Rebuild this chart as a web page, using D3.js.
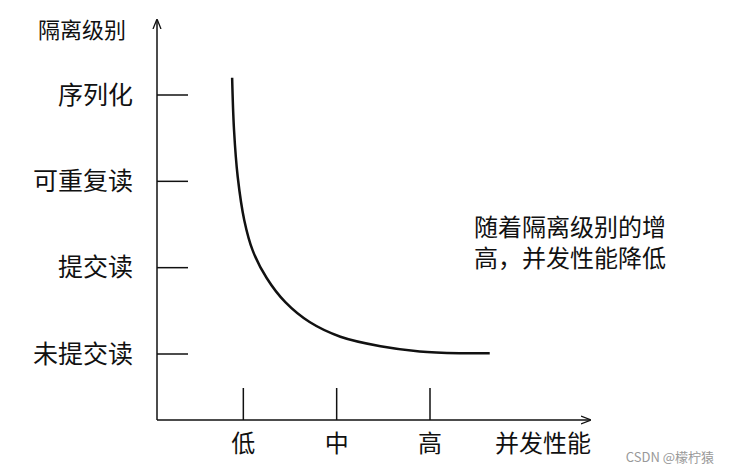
<!DOCTYPE html>
<html>
<head>
<meta charset="utf-8">
<script src="https://cdn.jsdelivr.net/npm/d3@7"></script>
<style>
  body { margin: 0; background: #fff; }
  text { font-family: "Noto Sans CJK SC", sans-serif; fill: #111; }
</style>
</head>
<body>
<svg id="chart" width="729" height="472"></svg>
<script>
// isolation levels (y) and concurrency levels (x)
const levels = ["未提交读", "提交读", "可重复读", "序列化"];
const concurrency = ["低", "中", "高"];
// curve, in data units (x: concurrency, y: isolation)
const curveX = [0.88, 0.90, 0.94, 1.01, 1.10, 1.25, 1.45, 1.71, 2.04, 2.47, 2.89, 3.32, 3.64];
const curveY = [3.2, 2.6, 2.05, 1.55, 1.20, 0.88, 0.60, 0.37, 0.20, 0.09, 0.03, 0.01, 0.01];

const svg = d3.select("#chart");
const x = d3.scaleLinear().domain([0, 3]).range([150, 430]);
const y = d3.scaleLinear().domain([0, 3]).range([354, 95]);
const x0 = 157, y0 = 420;

// arrow marker
svg.append("defs").append("marker")
  .attr("id", "arrow").attr("viewBox", "0 0 10 10")
  .attr("refX", 9).attr("refY", 5)
  .attr("markerWidth", 10).attr("markerHeight", 10)
  .attr("markerUnits", "userSpaceOnUse")
  .attr("orient", "auto")
  .append("path").attr("d", "M0,1 L10,5 L0,9").attr("fill", "none").attr("stroke", "#111").attr("stroke-width", 1.3);

// axes
svg.append("line").attr("x1", x0).attr("y1", y0).attr("x2", x0).attr("y2", 20)
  .attr("stroke", "#111").attr("stroke-width", 1.5).attr("marker-end", "url(#arrow)");
svg.append("line").attr("x1", x0).attr("y1", y0).attr("x2", 590).attr("y2", y0)
  .attr("stroke", "#111").attr("stroke-width", 1.5).attr("marker-end", "url(#arrow)");

// y ticks and labels
levels.forEach((d, i) => {
  svg.append("line").attr("x1", x0).attr("x2", 188).attr("y1", y(i)).attr("y2", y(i))
    .attr("stroke", "#111").attr("stroke-width", 1.5);
  svg.append("text").attr("x", 133).attr("y", y(i)).attr("dy", "0.35em")
    .attr("text-anchor", "end").attr("font-size", 25).text(d);
});

// x ticks and labels
concurrency.forEach((d, i) => {
  svg.append("line").attr("x1", x(i + 1)).attr("x2", x(i + 1)).attr("y1", y0).attr("y2", 388)
    .attr("stroke", "#111").attr("stroke-width", 1.5);
  svg.append("text").attr("x", x(i + 1)).attr("y", 444).attr("dy", "0.35em")
    .attr("text-anchor", "middle").attr("font-size", 24).text(d);
});

// axis titles
svg.append("text").attr("x", 82).attr("y", 30).attr("dy", "0.35em")
  .attr("text-anchor", "middle").attr("font-size", 22).text("隔离级别");
svg.append("text").attr("x", 543).attr("y", 444).attr("dy", "0.35em")
  .attr("text-anchor", "middle").attr("font-size", 24).text("并发性能");

// curve
const pts = curveX.map((v, i) => [x(v), y(curveY[i])]);
svg.append("path").attr("d", d3.line().curve(d3.curveCatmullRom)(pts))
  .attr("fill", "none").attr("stroke", "#111").attr("stroke-width", 2.5);

// annotation
svg.append("text").attr("x", 474).attr("y", 228).attr("dy", "0.35em")
  .attr("font-size", 24).text("随着隔离级别的增");
svg.append("text").attr("x", 474).attr("y", 259).attr("dy", "0.35em")
  .attr("font-size", 24).text("高，并发性能降低");

// watermark
svg.append("text").attr("x", 714).attr("y", 457).attr("dy", "0.35em")
  .attr("text-anchor", "end").attr("font-size", 13).style("fill", "#999").text("CSDN @檬柠猿");
</script>
</body>
</html>
